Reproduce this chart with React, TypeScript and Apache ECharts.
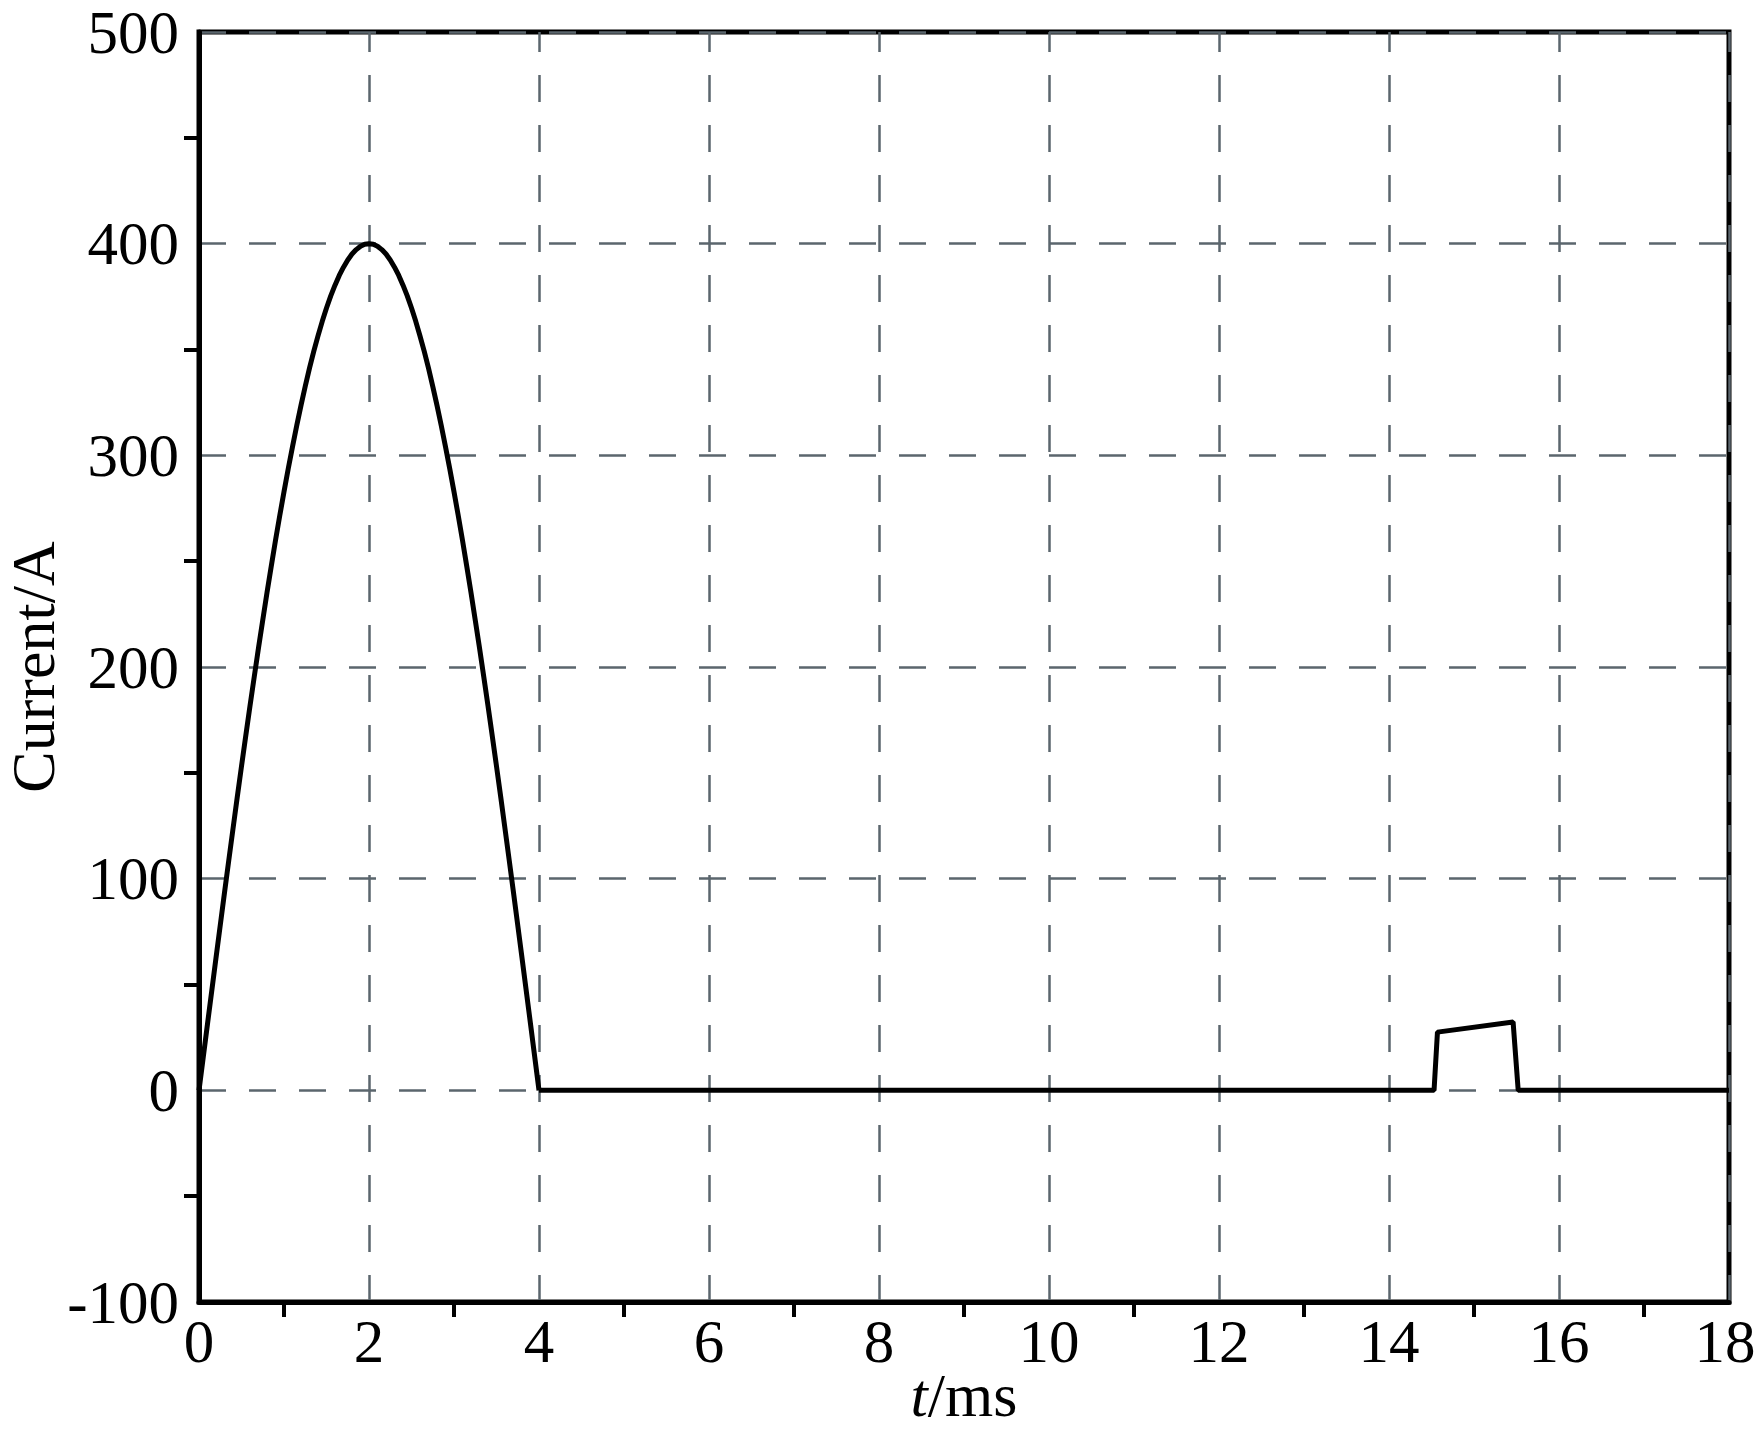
import React, { useEffect, useRef } from "react";
import * as echarts from "echarts";

// time (ms) and current (A)
const pulseTime = [
  0, 0.05, 0.1, 0.15, 0.2, 0.25, 0.3, 0.35, 0.4, 0.45, 0.5, 0.55, 0.6, 0.65, 0.7, 0.75, 0.8, 0.85, 0.9, 0.95,
  1.0, 1.05, 1.1, 1.15, 1.2, 1.25, 1.3, 1.35, 1.4, 1.45, 1.5, 1.55, 1.6, 1.65, 1.7, 1.75, 1.8, 1.85, 1.9, 1.95,
  2.0, 2.05, 2.1, 2.15, 2.2, 2.25, 2.3, 2.35, 2.4, 2.45, 2.5, 2.55, 2.6, 2.65, 2.7, 2.75, 2.8, 2.85, 2.9, 2.95,
  3.0, 3.05, 3.1, 3.15, 3.2, 3.25, 3.3, 3.35, 3.4, 3.45, 3.5, 3.55, 3.6, 3.65, 3.7, 3.75, 3.8, 3.85, 3.9, 3.95,
  4.0,
];
const pulseCurrent = [
  0, 15.7, 31.4, 47.0, 62.6, 78.0, 93.4, 108.6, 123.6, 138.5, 153.1, 167.5, 181.6, 195.4, 209.0, 222.2, 235.1, 247.6, 259.8, 271.5,
  282.8, 293.7, 304.1, 314.1, 323.6, 332.6, 341.2, 349.1, 356.4, 363.3, 369.6, 375.3, 380.4, 385.0, 388.9, 392.3, 395.1, 397.2, 398.8, 399.7,
  400, 399.7, 398.8, 397.2, 395.1, 392.3, 388.9, 385.0, 380.4, 375.3, 369.6, 363.3, 356.4, 349.1, 341.2, 332.6, 323.6, 314.1, 304.1, 293.7,
  282.8, 271.5, 259.8, 247.6, 235.1, 222.2, 209.0, 195.4, 181.6, 167.5, 153.1, 138.5, 123.6, 108.6, 93.4, 78.0, 62.6, 47.0, 31.4, 15.7,
  0,
];
const tailTime = [4.0, 14.53, 14.57, 15.46, 15.52, 18];
const tailCurrent = [0, 0, 27.5, 32.3, 0, 0];

const xTicks = { min: 0, max: 18, interval: 2 };
const yTicks = { min: -100, max: 500, interval: 100 };

const FONT = "'Liberation Serif', 'Times New Roman', serif";
const GRID_COLOR = "#5b666d";

export default function App() {
  const ref = useRef<HTMLDivElement>(null);
  useEffect(() => {
    if (!ref.current) return;
    const chart = echarts.init(ref.current, null, { renderer: "svg" });
    const pulse = pulseTime.map((t, i) => [t, pulseCurrent[i]]);
    const tail = tailTime.map((t, i) => [t, tailCurrent[i]]);
    chart.setOption({
      animation: false,
      backgroundColor: "#ffffff",
      grid: {
        left: 199,
        top: 32,
        width: 1530,
        height: 1270,
        containLabel: false,
        outerBoundsMode: "none",
        show: true,
        borderColor: "#000",
        borderWidth: 5,
        backgroundColor: "transparent",
      },
      xAxis: {
        type: "value",
        min: xTicks.min,
        max: xTicks.max,
        interval: xTicks.interval,
        name: "{i|t}/ms",
        nameLocation: "middle",
        nameGap: 62,
        nameMoveOverlap: false,
        nameTextStyle: {
          fontFamily: FONT,
          fontSize: 62,
          lineHeight: 62,
          color: "#000",
          rich: {
            i: { fontFamily: FONT, fontSize: 62, lineHeight: 62, fontStyle: "italic", color: "#000" },
          },
        },
        axisLine: { show: true, onZero: false, lineStyle: { color: "#000", width: 5 } },
        axisTick: { show: false },
        minorTick: { show: true, splitNumber: 2, length: 15, lineStyle: { color: "#000", width: 4 } },
        axisLabel: {
          fontFamily: FONT,
          fontSize: 61,
          color: "#000",
          margin: 9,
          formatter: (v: number) => (v === xTicks.max ? "{r|" + v + "}" : String(v)),
          rich: {
            r: { fontFamily: FONT, fontSize: 61, color: "#000", padding: [0, 8, 0, 0] },
          },
        },
        splitLine: {
          show: true,
          lineStyle: { color: GRID_COLOR, width: 2.5, type: [27, 23], dashOffset: 7 },
        },
        minorSplitLine: { show: false },
      },
      yAxis: {
        type: "value",
        min: yTicks.min,
        max: yTicks.max,
        interval: yTicks.interval,
        name: "Current/A",
        nameLocation: "middle",
        nameGap: 135,
        nameMoveOverlap: false,
        nameTextStyle: { fontFamily: FONT, fontSize: 62, lineHeight: 62, color: "#000" },
        axisLine: { show: true, onZero: false, lineStyle: { color: "#000", width: 5 } },
        axisTick: { show: false },
        minorTick: { show: true, splitNumber: 2, length: 15, lineStyle: { color: "#000", width: 4 } },
        axisLabel: { fontFamily: FONT, fontSize: 61, color: "#000", margin: 20 },
        splitLine: {
          show: true,
          lineStyle: { color: GRID_COLOR, width: 2.5, type: [27, 23] },
        },
      },
      series: [
        {
          type: "line",
          data: pulse,
          showSymbol: false,
          symbol: "none",
          lineStyle: { color: "#000", width: 5, join: "round" },
          z: 5,
        },
        {
          type: "line",
          data: tail,
          showSymbol: false,
          symbol: "none",
          lineStyle: { color: "#000", width: 5 },
          z: 5,
        },
      ],
    });
    return () => chart.dispose();
  }, []);
  return (
    <div
      ref={ref}
      style={{ position: "absolute", left: 0, top: 0, width: 1756, height: 1436, background: "#fff" }}
    />
  );
}
